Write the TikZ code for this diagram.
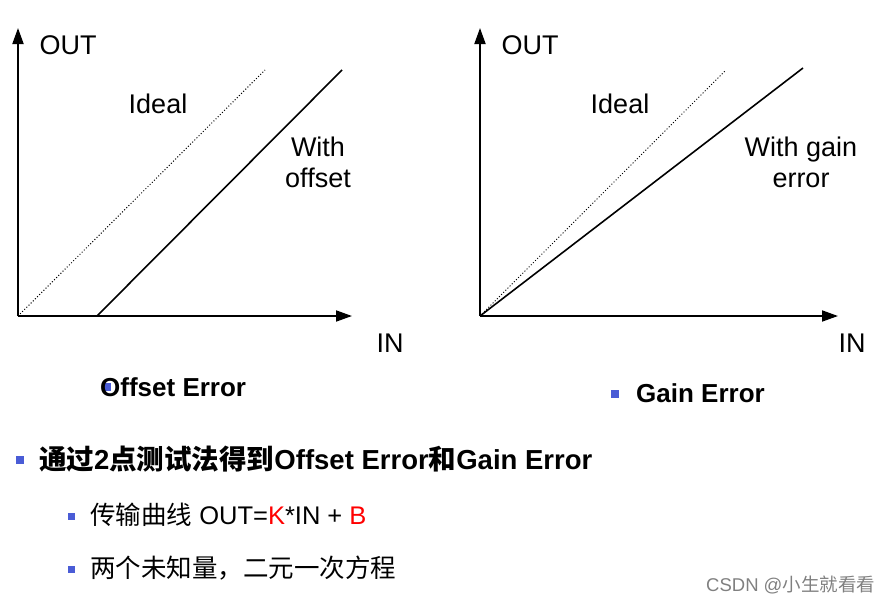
\documentclass[tikz,border=0pt]{standalone}
\usepackage{fontspec}
\setmainfont{Liberation Sans}
\newfontfamily\cjk{Noto Sans CJK SC}
\usetikzlibrary{arrows.meta}
\definecolor{bulc}{HTML}{4A5CD6}
\begin{document}
\begin{tikzpicture}[x=1pt,y=-1pt,
  axis/.style={line width=1.8pt,-{Triangle[length=16pt,width=11pt]}},
  ideal/.style={line width=1pt,dotted},
  real/.style={line width=1.6pt},
  lbl/.style={font=\fontsize{27}{31}\selectfont,align=center,inner sep=0pt},
  bul/.style={fill=bulc,minimum size=8pt,inner sep=0pt},
  bt/.style={anchor=west,inner sep=0pt}]
\useasboundingbox (0,0) rectangle (892,605);
% left plot
\coordinate (o1) at (18,316);
\coordinate (y1) at (18,28);
\coordinate (x1) at (352,316);
\coordinate (i1) at (265,70);
\coordinate (s1) at (97,316);
\coordinate (e1) at (342,70);
\draw[axis] (o1) -- (y1);
\draw[axis] (o1) -- (x1);
\draw[ideal] (o1) -- (i1);
\draw[real] (s1) -- (e1);
\node[lbl] (out1) at (68,45) {OUT};
\node[lbl] (id1) at (158,104) {Ideal};
\node[lbl] (wo) at (318,162) {With\\offset};
\node[lbl] (in1) at (390,343) {IN};
% right plot
\coordinate (o2) at (480,316);
\coordinate (y2) at (480,28);
\coordinate (x2) at (838,316);
\coordinate (i2) at (726,70);
\coordinate (e2) at (803,68);
\draw[axis] (o2) -- (y2);
\draw[axis] (o2) -- (x2);
\draw[ideal] (o2) -- (i2);
\draw[real] (o2) -- (e2);
\node[lbl] (out2) at (530,45) {OUT};
\node[lbl] (id2) at (620,104) {Ideal};
\node[lbl] (wg) at (801,162) {With gain\\error};
\node[lbl] (in2) at (852,343) {IN};
% bullets
\node[bul] (b1) at (107,387) {};
\node[bt,font=\fontsize{26}{30}\selectfont\bfseries] (t1) at (100,387) {Offset Error};
\node[bul] (b2) at (615,394) {};
\node[bt,font=\fontsize{26}{30}\selectfont\bfseries] (t2) at (636,393) {Gain Error};
\node[bul] (b3) at (20,460) {};
\node[bt,font=\fontsize{27.5}{31}\selectfont\bfseries] (t3) at (39,459) {{\cjk\bfseries 通过}2{\cjk\bfseries 点测试法得到}Offset Error{\cjk\bfseries 和}Gain Error};
\node[bul,minimum size=7pt] (b4) at (71,516) {};
\node[bt,font=\fontsize{25.5}{30}\selectfont] (t4) at (90,515) {{\cjk 传输曲线} OUT=\textcolor{red}{K}*IN + \textcolor{red}{B}};
\node[bul,minimum size=7pt] (b5) at (71,569) {};
\node[bt,font=\fontsize{25.5}{30}\selectfont] (t5) at (90,568) {\cjk 两个未知量，二元一次方程};
\node[bt,font=\fontsize{18.5}{22}\selectfont,text=gray] (wm) at (706,585) {CSDN @{\cjk 小生就看看}};
\end{tikzpicture}
\end{document}
